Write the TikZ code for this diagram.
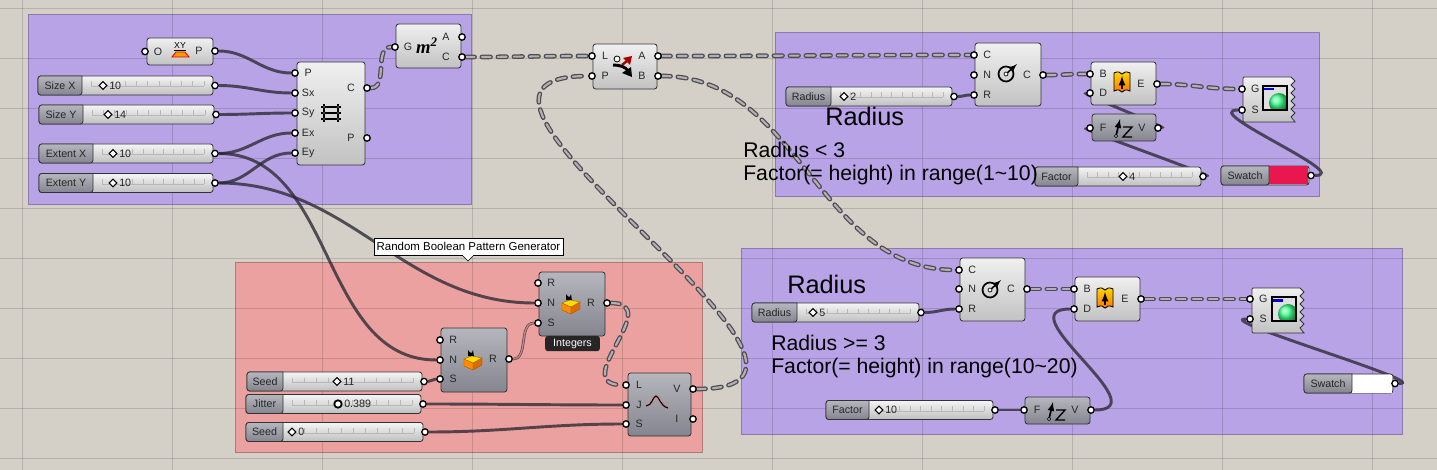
\documentclass[tikz,border=0pt]{standalone}
\usepackage{fontspec}
\setmainfont{Liberation Sans}
\newfontfamily\mathlike{Liberation Serif}
\usetikzlibrary{shapes.geometric,backgrounds}
\pgfdeclarelayer{wires}
\pgfsetlayers{background,wires,main}
\definecolor{canvas}{HTML}{D4D0C8}
\definecolor{groupblue}{HTML}{B8A3E7}
\definecolor{groupred}{HTML}{EBA19F}
\definecolor{wirecol}{HTML}{2C2833}
\definecolor{treecol}{HTML}{4F4B52}
\definecolor{treecore}{HTML}{B4AFB2}
\definecolor{swatchred}{HTML}{E8174F}
\definecolor{greytop}{HTML}{B6B6BE}
\definecolor{greybot}{HTML}{85858F}
\tikzset{
  groupbox/.style={draw=#1!75!black,fill=#1,line width=.7pt},
  comp/.style={draw=black!80,rounded corners=2pt,inner sep=0pt,line width=.6pt,top color=white!94!black,bottom color=black!24},
  compgrey/.style={draw=black!80,rounded corners=2pt,inner sep=0pt,line width=.6pt,top color=greytop,bottom color=greybot},
  port/.style={circle,draw=black,fill=white,line width=1pt,inner sep=0pt,minimum size=4.8pt},
  inlab/.style={font=\footnotesize,text=black!85,inner sep=0pt,minimum width=13.5pt,label distance=0pt},
  outlab/.style={font=\footnotesize,text=black!85,inner sep=0pt,minimum width=18pt,label distance=0pt},
  sliderbody/.style={draw=black!80,rounded corners=2pt,line width=.6pt,top color=black!4,bottom color=black!25},
  sliderlab/.style={draw=black!80,line width=.6pt,top color=greytop,bottom color=greybot},
  tick/.style={draw=black!28,line width=.35pt},
  gripint/.style={diamond,draw=black,fill=white,line width=.8pt,inner sep=0pt,minimum size=6pt},
  gripfloat/.style={circle,draw=black,fill=white,line width=1.3pt,inner sep=0pt,minimum size=5.6pt},
  slidertext/.style={font=\footnotesize,text=black!85,inner sep=0pt},
  bigtext/.style={font=\fontsize{19}{22}\selectfont,anchor=base west,inner sep=0pt},
  notetext/.style={font=\fontsize{15.9}{18}\selectfont,anchor=base west,inner sep=0pt},
  wire/.style={draw=wirecol,draw opacity=.78,line width=2.2pt,out=0,in=180},
  listwire/.style={draw=wirecol,draw opacity=.7,every edge/.append style={line width=.55pt,double=groupred,double distance=.9pt},out=0,in=180},
  treewire/.style={draw=treecol,every edge/.append style={line width=.95pt,double=treecore,double distance=1.6pt},line cap=round,dash pattern=on 6.5pt off 5.5pt,out=0,in=180},
  boxicon/.pic={
    \fill[black] (-5,-4) -- (-5,-10) -- (-3,-7.5) -- (-1,-7.5) -- (0,-10) -- (1,-3) -- cycle;
    \draw[fill=orange!90!yellow,draw=orange!70!black,line width=.3pt] (-9,-1) -- (0,3) -- (0,10) -- (-9,6) -- cycle;
    \draw[fill=orange!85!black,draw=orange!70!black,line width=.3pt] (0,3) -- (9,-2) -- (9,5) -- (0,10) -- cycle;
    \draw[fill=yellow!80!orange,draw=orange!70!black,line width=.3pt] (-9,-1) -- (-1,-4) -- (9,-2) -- (0,3) -- cycle;
  },
  ringicon/.pic={
    \draw[line width=1.3pt] (0,0) circle (7.5);
    \draw[white,line width=2pt] (1,-1) -- (9,-9);
    \draw[-latex,line width=1.2pt] (0,0) -- (11,-10);
    \draw[fill=white,line width=.5pt] (0,0) circle (2);
  },
  bannericon/.pic={
    \draw[top color=yellow!70!orange,bottom color=orange!95!red,line width=.7pt]
      (-8,-9) .. controls (-4,-11) and (-2,-10) .. (0,-8) .. controls (2,-10) and (4,-11) .. (8,-9)
      -- (8,9) .. controls (4,7) and (2,8) .. (0,10) .. controls (-2,8) and (-4,7) .. (-8,9) -- cycle;
    \draw[-latex,line width=1.4pt] (0,7) -- (0,-6);
  },
  previewicon/.pic={
    \draw[comp,rounded corners=0pt] (2,0) -- (48,0) -- (52,4) -- (48,8) -- (52,12) -- (48,16) -- (52,20)
      -- (48,24) -- (52,28) -- (48,32) -- (52,36) -- (48,40) -- (52,45) -- (2,45)
      .. controls (0,45) and (0,45) .. (0,43) -- (0,2) .. controls (0,0) and (0,0) .. (2,0) -- cycle;
    \begin{scope}
      \clip (20,9) rectangle (44,33);
      \fill[black!12] (20,9) rectangle (44,33);
      \shade[ball color=green!60!cyan!80!white] (36,26) circle (10);
    \end{scope}
    \draw[line width=.8pt] (20,9) rectangle (44,33);
    \fill[blue!85!black] (21,11) rectangle (31,13.5);
  },
  zicon/.pic={
    \draw[-latex,line width=1.3pt] (-6,8) -- (-2,-9);
    \draw[fill=white,line width=.5pt] (-6,8) circle (1.6);
    \draw[line width=1pt] (1,-1) -- (10,-1) -- (1,9) -- (10,9);
  },
}
\begin{document}
\begin{tikzpicture}[x=.75pt,y=-.75pt]
  \useasboundingbox (0,0) rectangle (1437,470);
  \begin{scope}[on background layer]
    \fill[canvas] (0,0) rectangle (1437,470);
    \path[groupbox=groupblue] (28,14) rectangle (471,204);
    \path[groupbox=groupred] (235,262) rectangle (702,452);
    \path[groupbox=groupblue] (775,32) rectangle (1319,196);
    \path[groupbox=groupblue] (741,248) rectangle (1402,434);
    \foreach \x in {22,172,...,1372} \draw[black,opacity=.14,line width=.6pt] (\x,0) -- (\x,470);
    \foreach \y in {8,58,...,458} \draw[black,opacity=.14,line width=.6pt] (0,\y) -- (1437,\y);
  \end{scope}

  % components
  \foreach \n/\cx/\cy/\w/\h/\s in {plane/180/51.5/66/27/comp,grid/331/113.5/68/103/comp,area/428.5/46/65/44/comp,
      dispatch/625/66.5/64/45/comp,randtop/572/304/66/64/compgrey,randlow/474/360/66/64/compgrey,
      jitter/659.5/404.5/63/63/compgrey,circa/1008/74.5/66/63/comp,extra/1123.5/83.5/65/43/comp,
      unita/1124/127.5/64/27/compgrey,circb/992.5/289.5/65/63/comp,extrb/1107.5/299/65/44/comp,
      unitb/1057.5/410.5/65/27/compgrey}
    \node[\s,minimum width=\w*.75pt,minimum height=\h*.75pt] (\n) at (\cx,\cy) {};
  \pic at (1243,77) {previewicon};
  \pic at (1252,288) {previewicon};
  \node[fill=black!85,text=white,rounded corners=2pt,font=\footnotesize,inner sep=0pt,minimum width=41pt,minimum height=11.5pt] (intcap) at (572.5,343.5) {Integers};

  % sliders
  \foreach \n/\t/\a/\b/\c/\y/\g/\k/\v in {sizex/Size X/38/82/213/85.5/103/gripint/10,sizey/Size Y/39/83/214/114.5/108/gripint/14,
      extx/Extent X/39/93/213/153.5/113/gripint/10,exty/Extent Y/39/93/213/183/113/gripint/10,
      seeda/Seed/247/283/422/381.5/337/gripint/11,jit/Jitter/246/283/421/404/338/gripfloat/0.389,
      seedb/Seed/246/283/423/432/292/gripint/0,rada/Radius/786/831/952/96.5/844/gripint/2,
      faca/Factor/1035/1078/1201/176.5/1123/gripint/4,radb/Radius/752/797/919/312.5/813/gripint/5,
      facb/Factor/826/869/993/410/879/gripint/10} {
    \path[sliderbody] (\a,\y-9.5) rectangle (\c,\y+9.5);
    \path[sliderlab] (\b,\y-9.5) [rounded corners=2pt] -- (\a,\y-9.5) -- (\a,\y+9.5) -- (\b,\y+9.5) [sharp corners] -- cycle;
    \draw[tick] (\b+9,\y+1) -- (\c-9,\y+1);
    \foreach \i in {0,...,10} \draw[tick] ({\b+9+\i*(\c-\b-18)/10},\y-4) -- ({\b+9+\i*(\c-\b-18)/10},\y+1);
    \node[slidertext] (\n l) at ({(\a+\b)/2},\y) {\t};
    \node[\k] (\n g) at (\g,\y) {};
    \node[slidertext,anchor=west] (\n v) at (\g+6,\y) {\v};
    \node[port] (\n) at (\c+2,\y) {};
  }

  % swatches
  \foreach \n/\a/\b/\c/\y/\col in {swa/1221/1269/1309/175.5/swatchred,swb/1304/1352/1393/383.5/white} {
    \path[sliderbody] (\a,\y-9.5) rectangle (\c,\y+9.5);
    \fill[\col] (\b,\y-9) rectangle (\c-.6,\y+9);
    \path[sliderlab] (\b,\y-9.5) [rounded corners=2pt] -- (\a,\y-9.5) -- (\a,\y+9.5) -- (\b,\y+9.5) [sharp corners] -- cycle;
    \node[slidertext] (\n l) at ({(\a+\b)/2},\y) {Swatch};
    \node[port] (\n) at (\c+2,\y) {};
  }

  % icons
  \node[font=\fontsize{6.5}{7}\selectfont,inner sep=0pt] (xytext) at (180,47) {\underline{XY}};
  \draw[fill=orange!80!yellow,draw=red!85!black,line width=.6pt] (172,57) -- (176,52) -- (185,52) -- (189,57) -- cycle;
  \draw[line width=.8pt] (321,107) -- (341,107) (321,113) -- (341,113) (321,119) -- (341,119) (324,104) -- (324,122) (338,104) -- (338,122);
  \foreach \x in {324,338} \foreach \y in {107,113,119} \fill[white,draw=black,line width=.3pt] (\x,\y) circle (1.2);
  \node[font=\mathlike\bfseries\itshape\fontsize{14}{14}\selectfont,inner sep=0pt] (mtext) at (427,46) {m\textsuperscript{2}};
  \draw[fill=white,line width=.6pt] (617,59) circle (3);
  \draw[red!65!black,line width=1.8pt] (622,65) -- (627,61);
  \fill[red!65!black] (632,56) -- (623,58) -- (630,65) -- cycle;
  \draw[line width=2.2pt] (613,65) .. controls (620,65) and (626,67) .. (628,71);
  \fill[black] (632,77) -- (622,73) -- (631,67) -- cycle;
  \pic at (571,304) {boxicon};
  \pic at (473,360) {boxicon};
  \draw[red!60,opacity=.45,line width=2pt] (646,406) .. controls (652,406) and (653,396) .. (656,396) .. controls (659,396) and (660,406) .. (668,408);
  \draw[line width=.8pt] (646,406) .. controls (652,406) and (653,396) .. (656,396) .. controls (659,396) and (660,406) .. (668,408);
  \pic at (1006,74) {ringicon};
  \pic at (990,290) {ringicon};
  \pic at (1122,82) {bannericon};
  \pic at (1105,298) {bannericon};
  \pic at (1122,128) {zicon};
  \pic at (1055,411) {zicon};

  % ports
  \foreach \n/\x/\y/\t in {planeO/145/51.5/O,gridP/295/73/P,gridSx/295/93/Sx,gridSy/295/113/Sy,gridEx/295/133/Ex,gridEy/295/153/Ey,
      areaG/395/47/G,dispL/592/56/L,dispP/592/76/P,rtopR/538/283/R,rtopN/538/303/N,rtopS/538/323/S,
      rlowR/440/340/R,rlowN/440/360/N,rlowS/440/379/S,jitL/626/385/L,jitJ/626/405/J,jitS/626/424/S,
      circaC/974/55/C,circaN/974/75/N,circaR/974/95/R,extraB/1090/74/B,extraD/1090/93/D,unitaF/1090/128/F,
      prevaG/1242/89/G,prevaS/1242/110/S,circbC/959/270/C,circbN/959/289/N,circbR/959/309/R,
      extrbB/1074/289/B,extrbD/1074/309/D,unitbF/1024/410/F,prevbG/1250/299/G,prevbS/1250/319/S}
    \node[port,label={[inlab]0:\t}] (\n) at (\x,\y) {};
  \foreach \n/\x/\y/\t in {planeP/215/51/P,gridC/367/88/C,gridPo/367/138/P,areaA/462/37/A,areaC/462/57/C,
      dispA/658/56/A,dispB/658/76/B,rtopOut/607/303/R,rlowOut/509/359/R,jitV/693/389/V,jitI/693/419/I,
      circaOut/1043/75/C,extraE/1157/84/E,unitaV/1158/128/V,circbOut/1027/289/C,extrbE/1141/299/E,unitbV/1091/410/V}
    \node[port,label={[outlab]180:\t}] (\n) at (\x,\y) {};

  % wires
  \begin{pgfonlayer}{wires}
    \path[wire]
      (planeP) edge (gridP)
      (sizex) edge (gridSx)
      (sizey) edge (gridSy)
      (extx) edge (gridEx)
      (exty) edge (gridEy)
      (extx) edge (rlowN)
      (exty) edge (rtopN)
      (seeda) edge (rlowS)
      (jit) edge (jitJ)
      (seedb) edge (jitS)
      (rada) edge (circaR)
      (radb) edge (circbR)
      (facb) edge (unitbF)
      (faca) edge[distance=8pt] (unitaF)
      (unitaV) edge[distance=6pt] (extraD)
      (unitbV) edge[distance=49pt] (extrbD)
      (swa) edge[distance=30pt] (prevaS)
      (swb) edge[distance=26pt] (prevbS);
    \path[listwire] (rlowOut) edge (rtopS);
    \path[treewire]
      (gridC) edge (areaG)
      (areaC) edge (dispL)
      (dispA) edge (circaC)
      (dispB) edge (circbC)
      (rtopOut) edge[distance=41pt] (jitL)
      (jitV) edge[distance=155pt] (dispP)
      (circaOut) edge (extraB)
      (extraE) edge (prevaG)
      (circbOut) edge (extrbB)
      (extrbE) edge (prevbG);
  \end{pgfonlayer}

  % tooltip and notes
  \draw[fill=white,line width=.5pt] (462,255) -- (468,261) -- (474,255) -- cycle;
  \node[draw=black,fill=white,line width=.5pt,font=\fontsize{8.6}{10}\selectfont,inner sep=0pt,minimum width=141.5pt,minimum height=12.5pt] (tip) at (468.5,246.5) {Random Boolean Pattern Generator};
  \fill[white] (463,254) rectangle (473,256);
  \node[bigtext] (titlea) at (825,126) {Radius};
  \node[bigtext] (titleb) at (787,293) {Radius};
  \node[notetext] (notea) at (743,158) {Radius < 3};
  \node[notetext] (noteb) at (743,181) {Factor(= height) in range(1\textasciitilde 10)};
  \node[notetext] (notec) at (771,350) {Radius >= 3};
  \node[notetext] (noted) at (771,373) {Factor(= height) in range(10\textasciitilde 20)};
\end{tikzpicture}
\end{document}
